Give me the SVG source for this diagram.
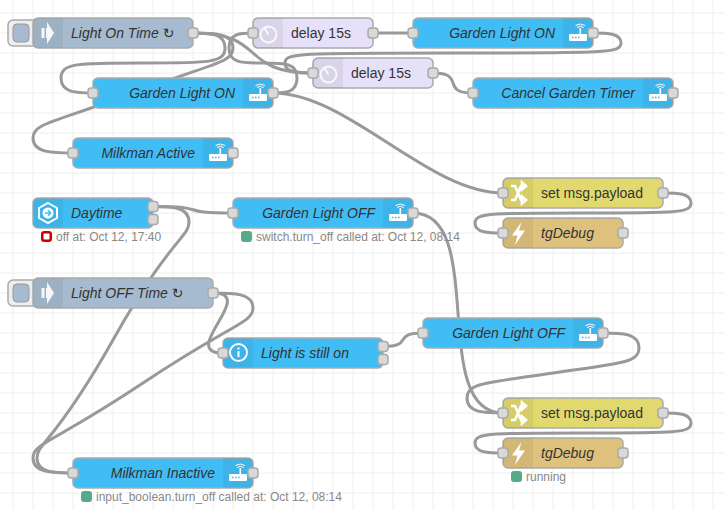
<svg xmlns="http://www.w3.org/2000/svg" width="725" height="510" viewBox="0 0 725 510">
<style>
text{font-family:"Liberation Sans","DejaVu Sans",sans-serif}
.w{fill:none;stroke:#999;stroke-width:3}
.n{stroke:#aaa;stroke-width:1.5}
.ha{fill:#41bdf5}.inj{fill:#a6bbcf}.dly{fill:#e6e0f8}.chg{fill:#e2d96e}.fn{fill:#dec17c}
.s{fill:#000;fill-opacity:.05}
.p{fill:#d9d9d9;stroke:#aaa;stroke-width:1.5}
.l{font-size:14px;fill:#333}
.i{font-style:italic}
.e{text-anchor:end}
.st{font-size:12px;fill:#888}
.btn{fill:#eee;stroke:#aaa;stroke-width:1.5}
.ic{fill:#fff;stroke:none}
.il{fill:none;stroke:#fff}
</style>
<defs>
<pattern id="g" width="20" height="20" patternUnits="userSpaceOnUse" x="3" y="3">
<path d="M10 0V20M0 10H20" fill="none" stroke="#eee" stroke-width="1"/>
</pattern>
<g id="router">
<rect class="ic" x="-9" y="1" width="18" height="7" rx="1.2"/>
<rect class="ic" x="1.5" y="-5" width="1.6" height="7"/>
<path class="il" d="M-1 -5.500Q2.300 -8 5.600 -5.500M-2.500 -7.500Q2.300 -10.500 7 -7.500" stroke-width="1"/>
<path d="M-6 4.500h1.600M-3 4.500h1.600M0 4.500h1.600" stroke="#41bdf5" stroke-width="1.600" fill="none"/>
</g>
<path id="inject" class="ic" fill-opacity=".9" d="M-6.500 -5H-3.500V5H-6.500ZM-2 -5H-1V-11L6 0L-1 11V5H-2Z"/>
<g id="clock">
<circle class="il" cx="0.500" cy="1.500" r="8" stroke-width="1.800" stroke-opacity=".85"/>
<path class="il" d="M0.500 1.500L-3.500 -5" stroke-width="1.800" stroke-opacity=".85"/>
</g>
<path id="shuffle" class="il" stroke-width="2.600" d="M-7 -7H-3L3 7H5M-7 7H-3L3 -7H5M4 -10.500L8 -7L4 -3.500ZM4 3.500L8 7L4 10.500Z"/>
<path id="bolt" class="ic" d="M3.500 -11L-6 2.500H-0.500L-3 12L7 -2.500H1Z"/>
<g id="hex">
<path class="il" stroke-width="2" d="M0 -10L9 -5V5L0 10L-9 5V-5Z"/>
<circle class="ic" cx="0" cy="0" r="5.500"/>
<path d="M-3 0H2M0 -2.800L2.800 0L0 2.800" fill="none" stroke="#41bdf5" stroke-width="1.500"/>
</g>
<g id="info">
<circle class="il" cx="0.500" cy="-0.500" r="8.500" stroke-width="1.800"/>
<rect class="ic" x="-0.500" y="-2" width="2" height="6"/>
<rect class="ic" x="-0.500" y="-5.500" width="2" height="2"/>
</g>
</defs>
<rect width="725" height="510" fill="#fff"/>
<rect width="725" height="510" fill="url(#g)"/>
<g id="connectors">
<path class="w" d="M193 33C209 33 225 33 225 48S209 63 143 63S61 63 61 78S77 93 93 93"/>
<path class="w" d="M193 33C213 33 233 33 233 48S213 63 133 93S33 123 33 138S53 153 73 153"/>
<path class="w" d="M193 33C268 33 238 73 313 73"/>
<path class="w" d="M273 93C285 93 297 93 297 78S285 63 263 63S229 63 229 48S241 33 253 33"/>
<path class="w" d="M373 33H413"/>
<path class="w" d="M593 33C607 33 621 33 621 43S607 53 453 53S285 53 285 63S299 73 313 73"/>
<path class="w" d="M433 73C466.500 73 439.500 93 473 93"/>
<path class="w" d="M273 93C348 93 428 193 503 193"/>
<path class="w" d="M663 193C677 193 691 193 691 203S677 213 583 213S475 213 475 223S489 233 503 233"/>
<path class="w" d="M153 206.500C213 206.500 173 213 233 213"/>
<path class="w" d="M153 206.500C171 206.500 189 206.500 189 222S171 237 113 340S37 443 37 458S55 473 73 473"/>
<path class="w" d="M413 213C488 213 428 413 503 413"/>
<path class="w" d="M213 293C258.600 293 177.400 353 223 353"/>
<path class="w" d="M213 293C233 293 253 293 253 308S233 323 143 383S33 443 33 458S53 473 73 473"/>
<path class="w" d="M383 346.500C414.600 346.500 391.400 333 423 333"/>
<path class="w" d="M603 333C621 333 639 333 639 348S621 363 553 373S467 383 467 398S485 413 503 413"/>
<path class="w" d="M663 413C677 413 691 413 691 423S677 433 583 433S475 433 475 443S489 453 503 453"/>
</g>
<g id="light-on-time">
<rect class="btn" x="8" y="20" width="30" height="26" rx="5"/>
<rect class="inj" x="13" y="24" width="16" height="18" rx="4" stroke="#999" stroke-width="1"/>
<rect class="n inj" x="33" y="18" width="160" height="30" rx="5"/>
<path class="s" d="M38 18H63V48H38A5 5 0 0 1 33 43V23A5 5 0 0 1 38 18Z"/>
<use href="#inject" x="48" y="33"/>
<text class="l i" x="71" y="38">Light On Time ↻</text>
<rect class="p" x="188" y="28" width="10" height="10" rx="3"/>
</g>
<g id="delay-1">
<rect class="n dly" x="253" y="18" width="120" height="30" rx="5"/>
<path class="s" d="M258 18H283V48H258A5 5 0 0 1 253 43V23A5 5 0 0 1 258 18Z"/>
<use href="#clock" x="268" y="33"/>
<text class="l" x="291" y="38">delay 15s</text>
<rect class="p" x="248" y="28" width="10" height="10" rx="3"/>
<rect class="p" x="368" y="28" width="10" height="10" rx="3"/>
</g>
<g id="garden-light-on-top">
<rect class="n ha" x="413" y="18" width="180" height="30" rx="5"/>
<path class="s" d="M563 18H588A5 5 0 0 1 593 23V43A5 5 0 0 1 588 48H563Z"/>
<use href="#router" x="578" y="33"/>
<text class="l i e" x="555" y="38">Garden Light ON</text>
<rect class="p" x="408" y="28" width="10" height="10" rx="3"/>
<rect class="p" x="588" y="28" width="10" height="10" rx="3"/>
</g>
<g id="delay-2">
<rect class="n dly" x="313" y="58" width="120" height="30" rx="5"/>
<path class="s" d="M318 58H343V88H318A5 5 0 0 1 313 83V63A5 5 0 0 1 318 58Z"/>
<use href="#clock" x="328" y="73"/>
<text class="l" x="351" y="78">delay 15s</text>
<rect class="p" x="308" y="68" width="10" height="10" rx="3"/>
<rect class="p" x="428" y="68" width="10" height="10" rx="3"/>
</g>
<g id="cancel-garden-timer">
<rect class="n ha" x="473" y="78" width="200" height="30" rx="5"/>
<path class="s" d="M643 78H668A5 5 0 0 1 673 83V103A5 5 0 0 1 668 108H643Z"/>
<use href="#router" x="658" y="93"/>
<text class="l i e" x="635" y="98">Cancel Garden Timer</text>
<rect class="p" x="468" y="88" width="10" height="10" rx="3"/>
<rect class="p" x="668" y="88" width="10" height="10" rx="3"/>
</g>
<g id="garden-light-on">
<rect class="n ha" x="93" y="78" width="180" height="30" rx="5"/>
<path class="s" d="M243 78H268A5 5 0 0 1 273 83V103A5 5 0 0 1 268 108H243Z"/>
<use href="#router" x="258" y="93"/>
<text class="l i e" x="235" y="98">Garden Light ON</text>
<rect class="p" x="88" y="88" width="10" height="10" rx="3"/>
<rect class="p" x="268" y="88" width="10" height="10" rx="3"/>
</g>
<g id="milkman-active">
<rect class="n ha" x="73" y="138" width="160" height="30" rx="5"/>
<path class="s" d="M203 138H228A5 5 0 0 1 233 143V163A5 5 0 0 1 228 168H203Z"/>
<use href="#router" x="218" y="153"/>
<text class="l i e" x="195" y="158">Milkman Active</text>
<rect class="p" x="68" y="148" width="10" height="10" rx="3"/>
<rect class="p" x="228" y="148" width="10" height="10" rx="3"/>
</g>
<g id="set-payload-1">
<rect class="n chg" x="503" y="178" width="160" height="30" rx="5"/>
<path class="s" d="M508 178H533V208H508A5 5 0 0 1 503 203V183A5 5 0 0 1 508 178Z"/>
<use href="#shuffle" x="518" y="193"/>
<text class="l" x="541" y="198">set msg.payload</text>
<rect class="p" x="498" y="188" width="10" height="10" rx="3"/>
<rect class="p" x="658" y="188" width="10" height="10" rx="3"/>
</g>
<g id="tgdebug-1">
<rect class="n fn" x="503" y="218" width="120" height="30" rx="5"/>
<path class="s" d="M508 218H533V248H508A5 5 0 0 1 503 243V223A5 5 0 0 1 508 218Z"/>
<use href="#bolt" x="518" y="233"/>
<text class="l i" x="541" y="238">tgDebug</text>
<rect class="p" x="498" y="228" width="10" height="10" rx="3"/>
<rect class="p" x="618" y="228" width="10" height="10" rx="3"/>
</g>
<g id="daytime">
<rect class="n ha" x="33" y="198" width="120" height="30" rx="5"/>
<path class="s" d="M38 198H63V228H38A5 5 0 0 1 33 223V203A5 5 0 0 1 38 198Z"/>
<use href="#hex" x="48" y="213"/>
<text class="l i" x="71" y="218">Daytime</text>
<rect class="p" x="148" y="201.500" width="10" height="10" rx="3"/>
<rect class="p" x="148" y="214.500" width="10" height="10" rx="3"/>
<rect x="42.250" y="232.250" width="8.500" height="8.500" rx="2" fill="#fff" stroke="#c00" stroke-width="2.500"/>
<text class="st" x="56" y="241">off at: Oct 12, 17:40</text>
</g>
<g id="garden-light-off">
<rect class="n ha" x="233" y="198" width="180" height="30" rx="5"/>
<path class="s" d="M383 198H408A5 5 0 0 1 413 203V223A5 5 0 0 1 408 228H383Z"/>
<use href="#router" x="398" y="213"/>
<text class="l i e" x="375" y="218">Garden Light OFF</text>
<rect class="p" x="228" y="208" width="10" height="10" rx="3"/>
<rect class="p" x="408" y="208" width="10" height="10" rx="3"/>
<rect x="241" y="231" width="11" height="11" rx="3" fill="#5a8"/>
<text class="st" x="256" y="241">switch.turn_off called at: Oct 12, 08:14</text>
</g>
<g id="light-off-time">
<rect class="btn" x="8" y="280" width="30" height="26" rx="5"/>
<rect class="inj" x="13" y="284" width="16" height="18" rx="4" stroke="#999" stroke-width="1"/>
<rect class="n inj" x="33" y="278" width="180" height="30" rx="5"/>
<path class="s" d="M38 278H63V308H38A5 5 0 0 1 33 303V283A5 5 0 0 1 38 278Z"/>
<use href="#inject" x="48" y="293"/>
<text class="l i" x="71" y="298">Light OFF Time ↻</text>
<rect class="p" x="208" y="288" width="10" height="10" rx="3"/>
</g>
<g id="light-still-on">
<rect class="n ha" x="223" y="338" width="160" height="30" rx="5"/>
<path class="s" d="M228 338H253V368H228A5 5 0 0 1 223 363V343A5 5 0 0 1 228 338Z"/>
<use href="#info" x="238" y="353"/>
<text class="l i" x="261" y="358">Light is still on</text>
<rect class="p" x="218" y="348" width="10" height="10" rx="3"/>
<rect class="p" x="378" y="341.500" width="10" height="10" rx="3"/>
<rect class="p" x="378" y="354.500" width="10" height="10" rx="3"/>
</g>
<g id="garden-light-off-2">
<rect class="n ha" x="423" y="318" width="180" height="30" rx="5"/>
<path class="s" d="M573 318H598A5 5 0 0 1 603 323V343A5 5 0 0 1 598 348H573Z"/>
<use href="#router" x="588" y="333"/>
<text class="l i e" x="565" y="338">Garden Light OFF</text>
<rect class="p" x="418" y="328" width="10" height="10" rx="3"/>
<rect class="p" x="598" y="328" width="10" height="10" rx="3"/>
</g>
<g id="set-payload-2">
<rect class="n chg" x="503" y="398" width="160" height="30" rx="5"/>
<path class="s" d="M508 398H533V428H508A5 5 0 0 1 503 423V403A5 5 0 0 1 508 398Z"/>
<use href="#shuffle" x="518" y="413"/>
<text class="l" x="541" y="418">set msg.payload</text>
<rect class="p" x="498" y="408" width="10" height="10" rx="3"/>
<rect class="p" x="658" y="408" width="10" height="10" rx="3"/>
</g>
<g id="tgdebug-2">
<rect class="n fn" x="503" y="438" width="120" height="30" rx="5"/>
<path class="s" d="M508 438H533V468H508A5 5 0 0 1 503 463V443A5 5 0 0 1 508 438Z"/>
<use href="#bolt" x="518" y="453"/>
<text class="l i" x="541" y="458">tgDebug</text>
<rect class="p" x="498" y="448" width="10" height="10" rx="3"/>
<rect class="p" x="618" y="448" width="10" height="10" rx="3"/>
<rect x="511" y="471" width="11" height="11" rx="3" fill="#5a8"/>
<text class="st" x="526" y="481">running</text>
</g>
<g id="milkman-inactive">
<rect class="n ha" x="73" y="458" width="180" height="30" rx="5"/>
<path class="s" d="M223 458H248A5 5 0 0 1 253 463V483A5 5 0 0 1 248 488H223Z"/>
<use href="#router" x="238" y="473"/>
<text class="l i e" x="215" y="478">Milkman Inactive</text>
<rect class="p" x="68" y="468" width="10" height="10" rx="3"/>
<rect class="p" x="248" y="468" width="10" height="10" rx="3"/>
<rect x="81" y="491" width="11" height="11" rx="3" fill="#5a8"/>
<text class="st" x="96" y="501">input_boolean.turn_off called at: Oct 12, 08:14</text>
</g>
</svg>
